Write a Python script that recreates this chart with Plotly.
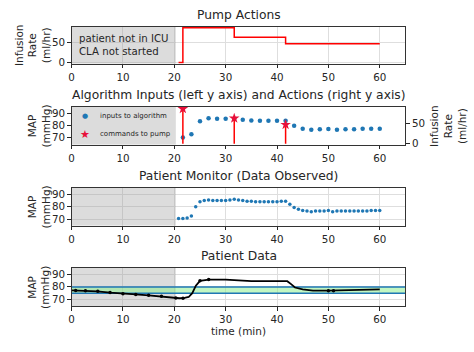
import plotly.graph_objects as go

# ---------------- data ----------------
# pump commands (time in min, infusion rate ml/hr)
pump_t = [20.83, 21.67, 31.67, 41.67, 60.0]
pump_rate = [0, 88, 64, 48, 48]

cmd_t = [21.67, 31.67, 41.67]
cmd_rate = [88, 64, 48]

# algorithm inputs (MAP every 100 s)
alg_t = [21.67, 23.33, 25.0, 26.67, 28.33, 30.0, 31.67, 33.33, 35.0, 36.67, 38.33, 40.0,
         41.67, 43.33, 45.0, 46.67, 48.33, 50.0, 51.67, 53.33, 55.0, 56.67, 58.33, 60.0]
alg_map = [70, 72.7, 83.5, 86, 85.5, 85.5, 85.5, 84.7, 84.2, 84, 84, 84,
           84, 79.7, 77.3, 76.5, 76.8, 77, 76.5, 76.8, 76.8, 77.3, 77.3, 77.3]

# patient monitor (MAP every 50 s)
mon_t = [20.83, 21.67, 22.5, 23.33, 24.17, 25.0, 25.83, 26.67, 27.5, 28.33, 29.17, 30.0,
         30.83, 31.67, 32.5, 33.33, 34.17, 35.0, 35.83, 36.67, 37.5, 38.33, 39.17, 40.0,
         40.83, 41.67, 42.5, 43.33, 44.17, 45.0, 45.83, 46.67, 47.5, 48.33, 49.17, 50.0,
         50.83, 51.67, 52.5, 53.33, 54.17, 55.0, 55.83, 56.67, 57.5, 58.33, 59.17, 60.0]
mon_map = [70.5, 70.5, 71, 72.5, 80, 84, 85, 85.5, 85, 85, 85, 85,
           85.5, 86, 85.5, 85, 84.5, 84.5, 84, 84, 84, 84, 84, 84,
           84.5, 84.5, 82, 79.5, 78, 77, 76.5, 76, 76.5, 76.5, 76.5, 77,
           76, 76.5, 76.5, 76.5, 76.5, 76.5, 76.5, 76.5, 76.5, 77, 77, 77]

# patient data (true MAP)
pat_t = [0, 2.5, 5, 7.5, 10, 12.5, 15, 17.5, 20, 21, 22, 22.8, 23.5, 24.2, 25, 26.7,
         30, 33, 35, 40, 42, 42.8, 43.5, 45, 47, 50, 55, 60]
pat_map = [77.2, 77, 76.5, 75.5, 74.5, 74, 73.3, 72.5, 71.5, 71, 71.3, 72, 75, 81, 84.8, 85.8,
           85.8, 85, 84.6, 84.5, 84.5, 82, 79.5, 78, 77, 77, 77.4, 78]
pat_mk_t = [0.8, 2.7, 5.1, 7.5, 10, 12.5, 15, 17.5, 20.3, 21.7, 25, 26.7, 50, 51]
pat_mk_map = [77.2, 77, 76.5, 75.5, 74.5, 74, 73.3, 72.5, 71.3, 71, 84.8, 85.8, 77, 77]

target_low, target_high = 75, 80
not_icu_end = 20.3
x_max = 65

legend_labels = ["inputs to algorithm", "commands to pump"]

# ---------------- layout helpers ----------------
W, H = 474, 352
X0, X1 = 69, 405
panels = [(27, 64.5), (108, 146.5), (190, 228.3), (271, 310)]
yranges = [[-3, 91], [64, 95.5], [64.7, 95.3], [64.5, 95]]
ytick = [[0, 50], [70, 80, 90], [70, 80, 90], [70, 80, 90]]


def ydom(top, bot):
    return [1 - bot / H, 1 - top / H]


BLUE = "#1f77b4"
STAR = "#e8103a"
TXT = "#262626"
GRID = "#dedede"
FONT = "DejaVu Sans"
TICK = 10.3

fig = go.Figure()

# gray "not in ICU" span in each panel (filled area over the full y range)
for i in range(4):
    sfx = "" if i == 0 else str(i + 1)
    lo, hi = yranges[i]
    fig.add_trace(go.Scatter(x=[0, not_icu_end, not_icu_end, 0, 0], y=[lo, lo, hi, hi, lo],
                             mode="lines", fill="toself", fillcolor="rgba(150,150,150,0.33)",
                             line=dict(width=0), hoverinfo="skip",
                             xaxis="x" + sfx, yaxis="y" + sfx))

# Panel 1: pump actions
fig.add_trace(go.Scatter(x=pump_t, y=pump_rate, mode="lines", line_shape="hv",
                         line=dict(color="red", width=1.5), xaxis="x", yaxis="y"))

# Panel 2: algorithm inputs + commands
fig.add_trace(go.Scatter(x=alg_t, y=alg_map, mode="markers",
                         marker=dict(color=BLUE, size=4.5), name=legend_labels[0],
                         xaxis="x2", yaxis="y2"))
stem_x, stem_y = [], []
for t, r in zip(cmd_t, cmd_rate):
    stem_x += [t, t, None]
    stem_y += [0, r, None]
fig.add_trace(go.Scatter(x=stem_x, y=stem_y, mode="lines", line=dict(color="red", width=1.5),
                         xaxis="x2", yaxis="y5"))
fig.add_trace(go.Scatter(x=cmd_t, y=cmd_rate, mode="markers",
                         marker=dict(color=STAR, size=8, symbol="star"),
                         name=legend_labels[1], xaxis="x2", yaxis="y5"))

# Panel 3: patient monitor
fig.add_trace(go.Scatter(x=mon_t, y=mon_map, mode="markers",
                         marker=dict(color=BLUE, size=3.5), xaxis="x3", yaxis="y3"))

# Panel 4: patient data with target band
fig.add_trace(go.Scatter(x=[0, x_max], y=[target_low, target_low], mode="lines",
                         line=dict(color=BLUE, width=1.5), xaxis="x4", yaxis="y4"))
fig.add_trace(go.Scatter(x=[0, x_max], y=[target_high, target_high], mode="lines",
                         line=dict(color=BLUE, width=1.5), fill="tonexty",
                         fillcolor="rgba(144,238,144,0.55)", xaxis="x4", yaxis="y4"))
fig.add_trace(go.Scatter(x=pat_t, y=pat_map, mode="lines", line=dict(color="black", width=1.8),
                         xaxis="x4", yaxis="y4"))
fig.add_trace(go.Scatter(x=pat_mk_t, y=pat_mk_map, mode="markers",
                         marker=dict(color="black", size=3.5), xaxis="x4", yaxis="y4"))

# axes
common_x = dict(range=[0, x_max], tickvals=[0, 10, 20, 30, 40, 50, 60], ticks="outside",
                ticklen=3.5, tickcolor=TXT, showline=True, linecolor="#333", linewidth=1,
                mirror=True, zeroline=False, tickfont=dict(size=TICK, color=TXT, family=FONT),
                domain=[X0 / W, X1 / W])
for i in range(4):
    sfx = "" if i == 0 else str(i + 1)
    grid = i != 1
    xa = dict(common_x, anchor="y" + sfx, showgrid=grid, gridcolor=GRID, gridwidth=0.8)
    if i == 3:
        xa["title"] = dict(text="time (min)", font=dict(size=10.5, color=TXT, family=FONT),
                           standoff=2)
    ya = dict(range=yranges[i], tickvals=ytick[i], domain=ydom(*panels[i]), anchor="x" + sfx,
              ticks="outside", ticklen=3.5, tickcolor=TXT, showline=True, linecolor="#333",
              linewidth=1, mirror=True, zeroline=False, showgrid=grid, gridcolor=GRID,
              gridwidth=0.8, tickfont=dict(size=TICK, color=TXT, family=FONT),
              ticklabeloverflow="allow")
    fig.update_layout(**{"xaxis" + sfx: xa, "yaxis" + sfx: ya})

fig.update_layout(yaxis5=dict(range=[-3, 93], tickvals=[0, 50], overlaying="y2", side="right",
                              anchor="x2", ticks="outside", ticklen=3.5, tickcolor=TXT,
                              showgrid=False, zeroline=False, showline=False,
                              tickfont=dict(size=TICK, color=TXT, family=FONT),
                              ticklabeloverflow="allow"))

# titles
titles = ["Pump Actions", "Algorithm Inputs (left y axis) and Actions (right y axis)",
          "Patient Monitor (Data Observed)", "Patient Data"]
ann = []
for i, t in enumerate(titles):
    top = panels[i][0]
    ann.append(dict(text=t, x=(X0 + X1) / 2 / W, y=1 - (top - 3) / H, xref="paper", yref="paper",
                    xanchor="center", yanchor="bottom", showarrow=False,
                    font=dict(size=12.3, color=TXT, family=FONT)))

# y axis titles
ylabels = [("Infusion<br>Rate<br>(ml/hr)", 29), ("MAP<br>(mmHg)", 36), ("MAP<br>(mmHg)", 36),
           ("MAP<br>(mmHg)", 36)]
for i, (t, xc) in enumerate(ylabels):
    top, bot = panels[i]
    ann.append(dict(text=t, x=xc / W, y=1 - (top + bot) / 2 / H, xref="paper", yref="paper",
                    xanchor="center", yanchor="middle", showarrow=False, textangle=-90,
                    font=dict(size=10.5, color=TXT, family=FONT)))
top, bot = panels[1]
ann.append(dict(text="Infusion<br>Rate<br>(ml/hr)", x=448 / W, y=1 - (top + bot) / 2 / H,
                xref="paper", yref="paper", xanchor="center", yanchor="middle", showarrow=False,
                textangle=-90, font=dict(size=10.5, color=TXT, family=FONT)))

# panel 1 text
ann.append(dict(text="patient not in ICU<br>CLA not started", x=1, y=45, xref="x", yref="y",
                xanchor="left", yanchor="middle", align="left", showarrow=False,
                font=dict(size=10.2, color=TXT, family=FONT)))

# panel 2 legend (symbol + label)
leg_rows = [(117.7, "\u25CF", BLUE, 7), (136, "\u2605", STAR, 11)]
for (yy, sym, col, sz), lab in zip(leg_rows, legend_labels):
    ann.append(dict(text=sym, x=83 / W, y=1 - yy / H, xref="paper", yref="paper",
                    xanchor="center", yanchor="middle", showarrow=False,
                    font=dict(size=sz, color=col, family=FONT)))
    ann.append(dict(text=lab, x=96 / W, y=1 - yy / H, xref="paper", yref="paper",
                    xanchor="left", yanchor="middle", showarrow=False,
                    font=dict(size=7, color=TXT, family=FONT)))

fig.update_layout(
    width=W, height=H, margin=dict(l=0, r=0, t=0, b=0),
    paper_bgcolor="white", plot_bgcolor="white", showlegend=False,
    annotations=ann,
    font=dict(family=FONT, color=TXT),
)

fig.write_html("out.html")
